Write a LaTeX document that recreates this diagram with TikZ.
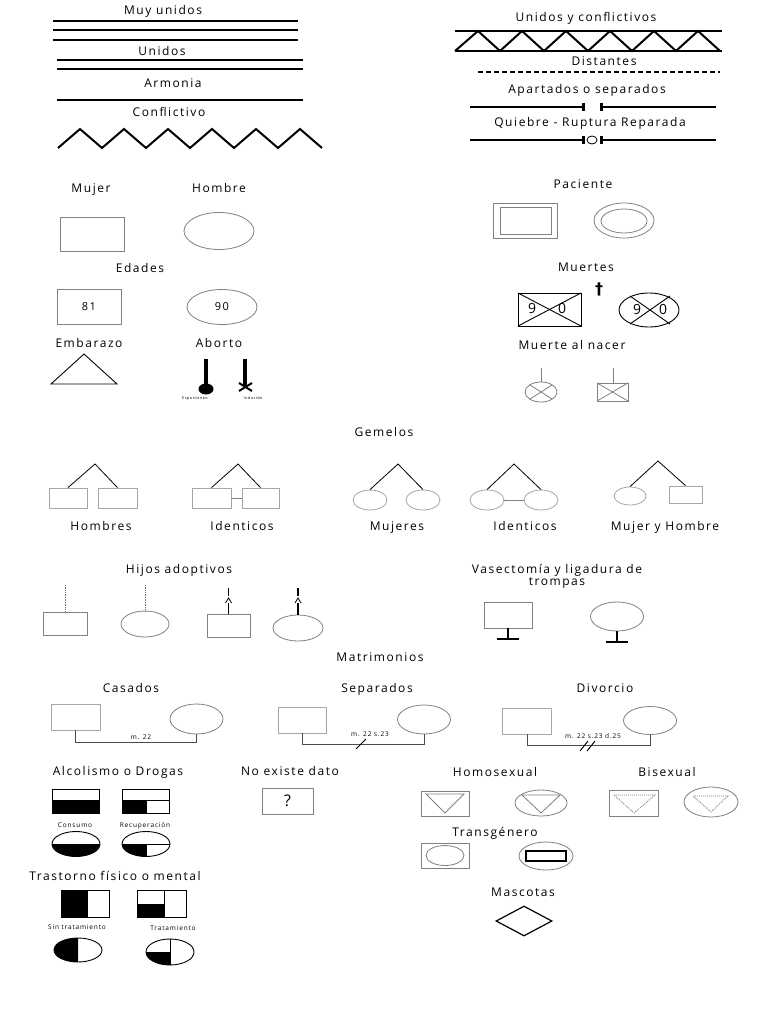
\documentclass[tikz,border=0pt]{standalone}
\usepackage{fontspec}
\setmainfont{Open Sans}[LetterSpace=13.0]
\newfontfamily\djv{DejaVu Sans}
\usetikzlibrary{shapes.geometric}
\tikzset{
  lbl/.style={font=\fontsize{12}{14}\selectfont, inner sep=0, anchor=mid},
  sm/.style={font=\fontsize{6.5}{7.5}\selectfont, inner sep=0, anchor=mid},
  xs/.style={font=\fontsize{3.8}{4.5}\selectfont, inner sep=0, anchor=mid},
  rel/.style={line width=2.3, black},
  gline/.style={draw=black!50, line width=0.8},
  lgline/.style={draw=black!35, line width=0.8},
  bline/.style={draw=black, line width=0.9},
  gsq/.style={rectangle, draw=black!50, line width=0.8, inner sep=0},
  gel/.style={ellipse, draw=black!50, line width=0.8, inner sep=0},
  lsq/.style={rectangle, draw=black!35, line width=0.8, inner sep=0},
  lel/.style={ellipse, draw=black!35, line width=0.8, inner sep=0},
  stand/.style={draw=black, line width=1.2},
}
\begin{document}
\begin{tikzpicture}[x=1pt,y=-1pt]
\useasboundingbox[fill=white] (0,0) rectangle (768,1024);

% ---------- relationship lines (left) ----------
\node[lbl] (tmuy) at (163,12) {Muy unidos};
\draw[rel] (53,21) -- (298,21);
\draw[rel] (53,30) -- (298,30);
\draw[rel] (53,40) -- (298,40);
\node[lbl] (tuni) at (162,53) {Unidos};
\draw[rel] (57,60) -- (303,60);
\draw[rel] (57,69) -- (303,69);
\node[lbl] (tarm) at (173,85) {Armonia};
\draw[rel] (57,100) -- (303,100);
\node[lbl] (tcon) at (169,114) {Conflictivo};
\draw[line width=2, line join=miter] (58,148) -- (80,129) -- (102,148) -- (124,129) -- (146,148) -- (168,129) -- (190,148) -- (212,129) -- (234,148) -- (256,129) -- (278,148) -- (300,129) -- (322,148);

% ---------- relationship lines (right) ----------
\node[lbl] (tuyc) at (586,19) {Unidos y conflictivos};
\draw[line width=2] (455,31) -- (722,31);
\draw[line width=2] (455,51) -- (722,51);
\draw[line width=2, line join=miter] (455,51) -- (478,31) -- (500,51) -- (522,31) -- (544,51) -- (566,31) -- (588,51) -- (610,31) -- (632,51) -- (654,31) -- (676,51) -- (698,31) -- (720,51);
\node[lbl] (tdis) at (604,63) {Distantes};
\draw[rel, line width=2.6, dash pattern=on 5 off 3] (478,72) -- (720,72);
\node[lbl] (tapa) at (587,91) {Apartados o separados};
\draw[line width=2] (470,107) -- (583,107);
\draw[line width=3] (583,103) -- (583,111);
\draw[line width=3] (601,103) -- (601,111);
\draw[line width=2] (601,107) -- (716,107);
\node[lbl] (tqui) at (590,124) {Quiebre - Ruptura Reparada};
\draw[line width=2] (470,140) -- (583,140);
\draw[line width=3] (583,136) -- (583,144);
\draw[line width=0.8] (592,140) ellipse [x radius=5, y radius=4];
\draw[line width=3] (601,136) -- (601,144);
\draw[line width=2] (601,140) -- (716,140);

% ---------- Mujer / Hombre / Edades ----------
\node[lbl] (tmuj) at (91,190) {Mujer};
\node[lbl] (thom) at (219,190) {Hombre};
\node[gsq, minimum width=64, minimum height=34] (mujer) at (92,234) {};
\node[gel, minimum width=70, minimum height=37] (hombre) at (219,231) {};
\node[lbl] (tedad) at (140,270) {Edades};
\node[gsq, minimum width=64, minimum height=35, font=\fontsize{11}{12}\selectfont] (e81) at (89,306.5) {81};
\node[gel, minimum width=70, minimum height=35, font=\fontsize{11}{12}\selectfont] (e90) at (222,307) {90};

% ---------- Embarazo / Aborto ----------
\node[lbl] (temb) at (89,345) {Embarazo};
\node[lbl] (tabo) at (219,345) {Aborto};
\draw[line width=0.9] (84,354) -- (51,384) -- (117,384) -- cycle;
\draw[line width=4] (206,359) -- (206,386);
\fill (206,389) ellipse [x radius=7.5, y radius=5.5];
\draw[line width=4] (245,359) -- (245,386);
\draw[line width=2] (239,383) -- (252,391);
\draw[line width=2] (252,383) -- (239,391);
\node[xs] (tesp) at (195,397) {Espontaneo};
\node[xs] (tind) at (253,397) {Inducido};

% ---------- Paciente ----------
\node[lbl] (tpac) at (583,186) {Paciente};
\draw[gline] (493,203) rectangle (557,238);
\draw[gline] (500,207) rectangle (551,234);
\draw[gline] (624,220.5) ellipse [x radius=30, y radius=17.5];
\draw[gline] (624,221) ellipse [x radius=23, y radius=12];

% ---------- Muertes ----------
\node[lbl] (tmue) at (586,269) {Muertes};
\node[font=\djv\fontsize{16}{18}\selectfont\bfseries, inner sep=0] (dag) at (599,289) {†};
\draw[bline] (518,293) rectangle (581,326);
\draw[bline] (518,293) -- (581,326);
\draw[bline] (581,293) -- (518,326);
\node[font=\fontsize{14}{16}\selectfont, inner sep=0, anchor=mid] (m9a) at (532,311) {9};
\node[font=\fontsize{14}{16}\selectfont, inner sep=0, anchor=mid] (m0a) at (562,311) {0};
\draw[bline] (649,310) ellipse [x radius=30, y radius=17];
\draw[bline] (630,296) -- (670,324);
\draw[bline] (670,296) -- (630,324);
\node[font=\fontsize{14}{16}\selectfont, inner sep=0, anchor=mid] (m9b) at (637,312) {9};
\node[font=\fontsize{14}{16}\selectfont, inner sep=0, anchor=mid] (m0b) at (663,312) {0};

% ---------- Muerte al nacer ----------
\node[lbl] (tman) at (572,347) {Muerte al nacer};
\draw[gline] (541,392) ellipse [x radius=16, y radius=10];
\draw[gline] (530,385) -- (552,399);
\draw[gline] (552,385) -- (530,399);
\draw[gline] (541,368) -- (541,382);
\draw[gline] (597,383) rectangle (628,401);
\draw[gline] (597,383) -- (628,401);
\draw[gline] (628,383) -- (597,401);
\draw[gline] (613,368) -- (613,383);

% ---------- Gemelos ----------
\node[lbl] (tgem) at (384,434) {Gemelos};
\coordinate (ap1) at (95,464);
\node[lsq, minimum width=38, minimum height=20] (hm1) at (68,498) {};
\node[lsq, minimum width=39, minimum height=20] (hm2) at (117.5,498) {};
\draw[bline, line width=0.8] (hm1.north) -- (ap1) -- (hm2.north);
\node[lbl] (thm) at (101,528) {Hombres};

\coordinate (ap2) at (238,464);
\node[lsq, minimum width=39, minimum height=20] (hi1) at (211.5,498) {};
\node[lsq, minimum width=37, minimum height=20] (hi2) at (260.5,498) {};
\draw[bline, line width=0.8] (hi1.north) -- (ap2) -- (hi2.north);
\draw[gline] (hi1.east) -- (hi2.west);
\node[lbl] (thi) at (242,528) {Identicos};

\coordinate (ap3) at (398,464);
\node[lel, minimum width=34, minimum height=20] (mw1) at (370,500) {};
\node[lel, minimum width=34, minimum height=20] (mw2) at (423,500) {};
\draw[bline, line width=0.8] (mw1.north) -- (ap3) -- (mw2.north);
\node[lbl] (tmw) at (397,528) {Mujeres};

\coordinate (ap4) at (514,464);
\node[lel, minimum width=34, minimum height=20] (mi1) at (487,500) {};
\node[lel, minimum width=34, minimum height=20] (mi2) at (541,500) {};
\draw[bline, line width=0.8] (mi1.north) -- (ap4) -- (mi2.north);
\draw[gline] (mi1.east) -- (mi2.west);
\node[lbl] (tmi) at (525,528) {Identicos};

\coordinate (ap5) at (658,461);
\node[lel, minimum width=32, minimum height=18] (mh1) at (630,496) {};
\node[lsq, minimum width=33, minimum height=17] (mh2) at (685.5,494.5) {};
\draw[bline, line width=0.8] (mh1.north) -- (ap5) -- (mh2.north);
\node[lbl] (tmh) at (665,528) {Mujer y Hombre};

% ---------- Hijos adoptivos ----------
\node[lbl] (thij) at (179,571) {Hijos adoptivos};
\node[gsq, minimum width=44, minimum height=23] (ad1) at (65,623.5) {};
\coordinate (ad1t) at (65,585);
\draw[draw=black!60, line width=0.9, dash pattern=on 1 off 0.7] (ad1t) -- (ad1.north);
\node[gel, minimum width=48, minimum height=26] (ad2) at (145,624) {};
\coordinate (ad2t) at (145,585);
\draw[draw=black!60, line width=0.9, dash pattern=on 1 off 0.7] (ad2t) -- (ad2.north);
\node[gsq, minimum width=43, minimum height=23] (ad3) at (228.5,625.5) {};
\coordinate (ad3t) at (228.5,588);
\coordinate (ad3m) at (228.5,603);
\draw[line width=1.1] (ad3t) -- ++(0,8);
\draw[line width=0.8] (225.5,603) -- (228.5,598) -- (231.5,603);
\draw[line width=1.1] (ad3m) -- (ad3.north);
\node[gel, minimum width=50, minimum height=26] (ad4) at (298,628) {};
\coordinate (ad4t) at (298,588);
\coordinate (ad4m) at (298,603);
\draw[line width=1.1] (ad4t) -- ++(0,8);
\draw[line width=0.8] (295,603) -- (298,598) -- (301,603);
\draw[line width=1.1] (ad4m) -- (ad4.north);

% ---------- Vasectomia ----------
\node[lbl, align=center, anchor=center] (tvas) at (557,576) {Vasectomía y ligadura de\\[-2pt]trompas};
\node[gsq, minimum width=48, minimum height=26] (vs1) at (508,615) {};
\coordinate (vs1b) at (508,639);
\draw[stand] (vs1.south) -- (vs1b);
\draw[stand] (497,639) -- (519,639);
\node[gel, minimum width=53, minimum height=29] (vs2) at (617,616.5) {};
\coordinate (vs2b) at (617,642);
\draw[stand] (vs2.south) -- (vs2b);
\draw[stand] (606,642) -- (628,642);

% ---------- Matrimonios ----------
\node[lbl] (tmat) at (380,659) {Matrimonios};
\node[lbl] (tcas) at (131,690) {Casados};
\node[lbl] (tsep) at (377,690) {Separados};
\node[lbl] (tdiv) at (605,690) {Divorcio};

\node[lsq, minimum width=49, minimum height=26] (ms1) at (75.5,717) {};
\node[gel, minimum width=53, minimum height=30] (mc1) at (196.5,719) {};
\draw[line width=1, black!70] (ms1.south) -- ++(0,12) -| (mc1.south);
\node[sm] (l1) at (141,737) {m. 22};

\node[lsq, minimum width=48, minimum height=26] (ms2) at (302,720) {};
\node[gel, minimum width=53, minimum height=29] (mc2) at (424,719.5) {};
\draw[line width=1, black!70] (ms2.south) -- ++(0,11) -| (mc2.south);
\node[sm] (l2) at (370,733.5) {m. 22 s.23};
\draw[line width=0.9] (356,749) -- (366,739);

\node[lsq, minimum width=49, minimum height=26] (ms3) at (527,721) {};
\node[gel, minimum width=53, minimum height=28] (mc3) at (650,720.5) {};
\draw[line width=1, black!70] (ms3.south) -- ++(0,11) -| (mc3.south);
\node[sm] (l3) at (593,736) {m. 22 s.23 d.25};
\draw[line width=0.9] (580,751) -- (588,741);
\draw[line width=0.9] (587,751) -- (595,741);

% ---------- Alcoholismo ----------
\node[lbl] (talc) at (118,773) {Alcolismo o Drogas};
\fill (52,800) rectangle (99,813);
\draw[bline, line width=0.7] (52,789) rectangle (99,813);
\fill (122,800) rectangle (146,813);
\draw[bline, line width=0.7] (122,789) rectangle (169,813);
\draw[bline, line width=0.7] (122,800) -- (169,800);
\draw[bline, line width=0.7] (146,800) -- (146,813);
\node[sm] (tcons) at (75,824.5) {Consumo};
\node[sm] (trec) at (145,824.5) {Recuperación};
\begin{scope}
\clip (50,844) rectangle (102,858);
\fill (76,844) ellipse [x radius=24, y radius=12.5];
\end{scope}
\draw[bline] (76,844) ellipse [x radius=24, y radius=12.5];
\begin{scope}
\clip (120,844) rectangle (146,858);
\fill (146,844) ellipse [x radius=24, y radius=12.5];
\end{scope}
\draw[bline] (146,844) ellipse [x radius=24, y radius=12.5];
\draw[bline, line width=0.7] (122,844) -- (170,844);
\draw[bline, line width=0.7] (146,844) -- (146,856.5);

% ---------- No existe dato ----------
\node[lbl] (tnod) at (290,773) {No existe dato};
\node[gsq, minimum width=51, minimum height=26, font=\fontsize{16}{18}\selectfont] (nod) at (287.5,801) {?};

% ---------- Homosexual / Bisexual ----------
\node[lbl] (thomo) at (495,774) {Homosexual};
\node[lbl] (tbis) at (667,774) {Bisexual};
\draw[gline] (421,791) rectangle (469,816);
\draw[gline] (426,794) -- (464,794) -- (445,813) -- cycle;
\draw[gline] (541,803) ellipse [x radius=26, y radius=13];
\draw[gline] (522,795) -- (560,795) -- (541,813) -- cycle;
\draw[gline] (609,790) rectangle (658,816);
\draw[gline, dash pattern=on 1 off 1] (614,795) -- (655,795) -- (634,813) -- cycle;
\draw[gline] (711,802) ellipse [x radius=27, y radius=15];
\draw[gline, dash pattern=on 1 off 1] (693,796) -- (728,796) -- (711,812) -- cycle;

% ---------- Transgenero ----------
\node[lbl] (ttra) at (495,834) {Transgénero};
\draw[gline] (421,843) rectangle (469,868);
\draw[gline] (445,855.5) ellipse [x radius=19, y radius=10];
\draw[gline] (546,856) ellipse [x radius=27, y radius=14];
\draw[line width=1.1] (526,851) rectangle (566,861);

% ---------- Mascotas ----------
\node[lbl] (tmas) at (523,894) {Mascotas};
\node[diamond, draw, line width=1.2, minimum width=56, minimum height=30, inner sep=0] (masc) at (524,921) {};

% ---------- Trastorno ----------
\node[lbl] (ttrs) at (115,878) {Trastorno físico o mental};
\fill (61,890) rectangle (88,917);
\draw[bline, line width=0.8] (61,890) rectangle (109,917);
\fill (137,904) rectangle (164,917);
\draw[bline, line width=0.8] (137,890) rectangle (186,917);
\draw[bline, line width=0.8] (164,890) -- (164,917);
\draw[bline, line width=0.8] (137,904) -- (164,904);
\node[sm] (tsin) at (77,927) {Sin tratamiento};
\node[sm] (ttrt) at (173,927.5) {Tratamiento};
\begin{scope}
\clip (52,936) rectangle (78,964);
\fill (78,950) ellipse [x radius=24, y radius=12];
\end{scope}
\draw[bline] (78,950) ellipse [x radius=24, y radius=12];
\begin{scope}
\clip (144,952) rectangle (170,967);
\fill (170,952) ellipse [x radius=24, y radius=13];
\end{scope}
\draw[bline] (170,952) ellipse [x radius=24, y radius=13];
\draw[bline, line width=0.8] (170,939) -- (170,965);
\draw[bline, line width=0.8] (146,952) -- (170,952);
\end{tikzpicture}
\end{document}
